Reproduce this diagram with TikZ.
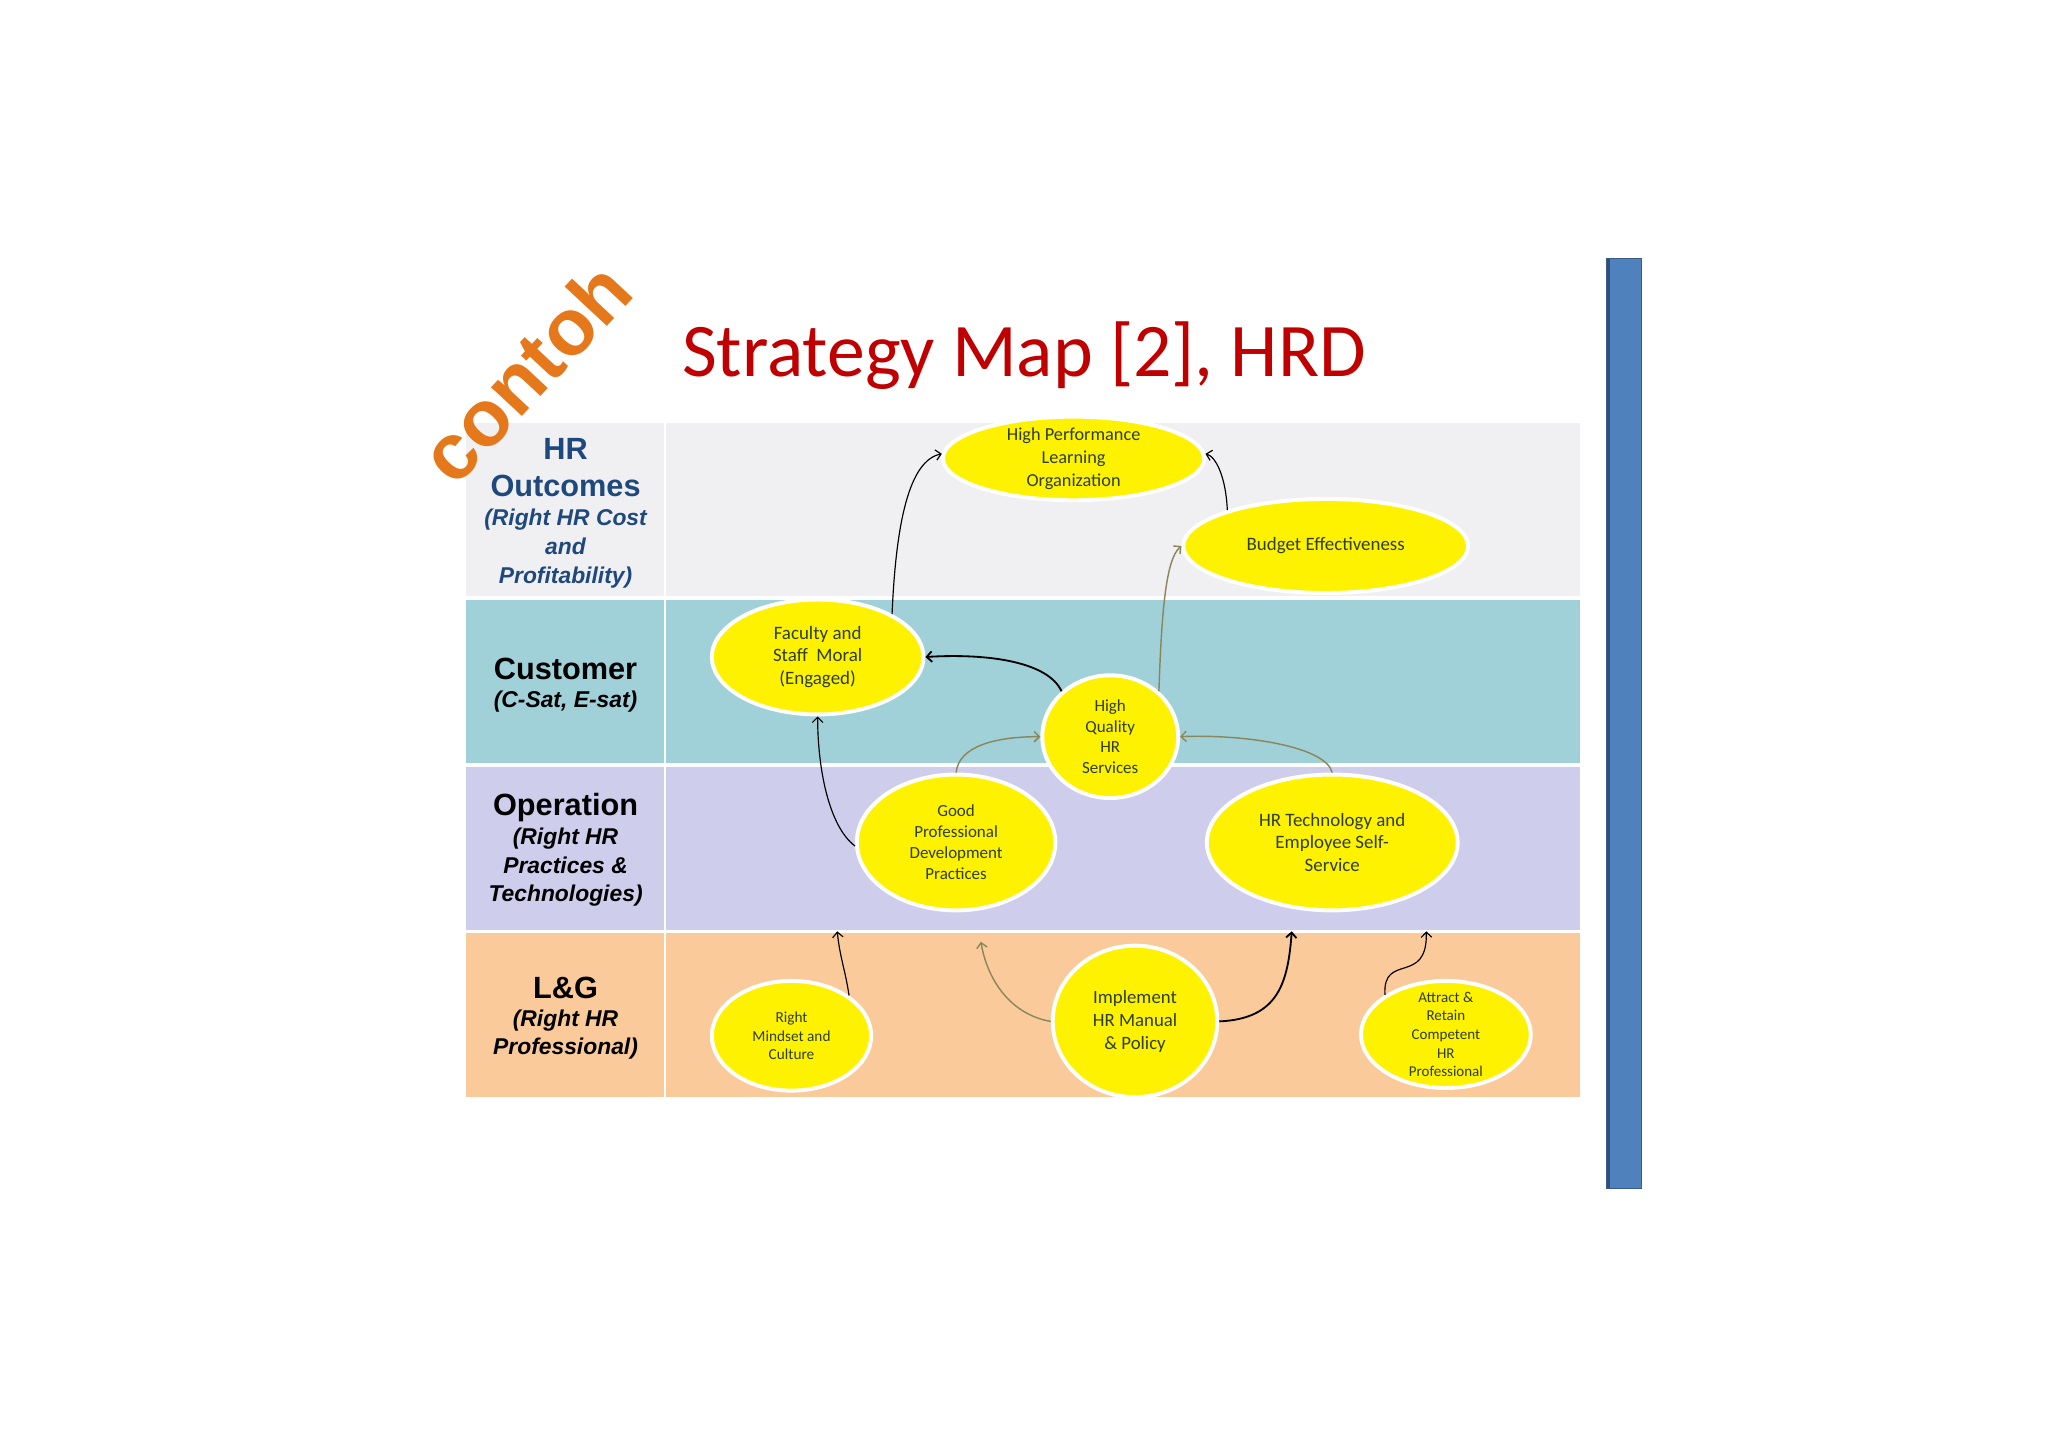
\documentclass[tikz,border=0pt]{standalone}
\usepackage{fontspec}
\newfontfamily\calfont{Carlito}
\newfontfamily\arfont{Liberation Sans}
\usetikzlibrary{shapes.geometric,arrows.meta}
\definecolor{rowgray}{RGB}{240,240,242}
\definecolor{rowteal}{RGB}{160,208,216}
\definecolor{rowlav}{RGB}{207,205,236}
\definecolor{rowpeach}{RGB}{251,202,154}
\definecolor{hrblue}{RGB}{31,73,125}
\definecolor{titlered}{RGB}{192,0,0}
\definecolor{orng}{RGB}{230,120,28}
\definecolor{olivec}{RGB}{140,135,90}
\definecolor{elltext}{RGB}{45,62,40}
\definecolor{barblue}{RGB}{79,129,189}
\definecolor{barline}{RGB}{56,93,138}
\begin{document}
\begin{tikzpicture}[x=1pt,y=-1pt,
  ell/.style={ellipse, fill=yellow, draw=white, line width=3pt, inner sep=0pt},
  etxt/.style={align=center, text=elltext, inner sep=0pt},
  lbl/.style={align=center, inner sep=0pt, font=\arfont\bfseries\fontsize{23.5}{29}\selectfont},
  sublbl/.style={align=center, inner sep=0pt, font=\arfont\bfseries\itshape\fontsize{17.5}{22}\selectfont},
  conn/.style={-{Straight Barb[length=4pt,width=8pt]}, line width=0.9pt, black},
  oconn/.style={-{Straight Barb[length=4pt,width=8pt]}, line width=1.1pt, olivec}]
\useasboundingbox (0,0) rectangle (1568,1109);
\fill[white] (0,0) rectangle (1568,1109);
% rows
\fill[rowgray] (357,324) rectangle (1210,456);
\fill[rowteal] (357,459) rectangle (1210,584);
\fill[rowlav] (357,587) rectangle (1210,712);
\fill[rowpeach] (357,714) rectangle (1210,840);
\draw[white, line width=2pt] (509,324) -- (509,840);
% blue bar
\fill[barblue] (1230,198) rectangle (1257,910);
\fill[barline!85!black] (1230,198) rectangle (1233,910);
\draw[barline, line width=0.8pt] (1230,198) rectangle (1257,910);
% title
\node[anchor=base west, inner sep=0pt, text=titlered, font=\calfont\fontsize{58}{70}\selectfont] (title) at (522,288) {Strategy Map [2], HRD};
\node[rotate=47, inner sep=0pt, text=orng, font=\arfont\bfseries\fontsize{61}{66}\selectfont] (contoh) at (402,285) {contoh};
% row labels
\node[lbl, text=hrblue] (hrA) at (433,358) {HR\\Outcomes};
\node[sublbl, text=hrblue] (hrB) at (433,420) {(Right HR Cost\\and\\Profitability)};
\node[lbl] (cuA) at (433,512) {Customer};
\node[sublbl] (cuB) at (433,537) {(C-Sat, E-sat)};
\node[lbl] (opA) at (433,618) {Operation};
\node[sublbl] (opB) at (433,664) {(Right HR\\Practices \&\\Technologies)};
\node[lbl] (lgA) at (433,756) {L\&G};
\node[sublbl] (lgB) at (433,792) {(Right HR\\Professional)};
% ellipses
\node[ell, minimum width=200pt, minimum height=64pt] (hp) at (822,351) {};
\node[etxt, font=\calfont\fontsize{14}{17.5}\selectfont] (hpT) at (hp) {High Performance\\Learning\\Organization};
\node[ell, minimum width=218pt, minimum height=72pt] (bud) at (1015,418) {};
\node[etxt, font=\calfont\fontsize{14.5}{17.5}\selectfont] (budT) at (bud) {Budget Effectiveness};
\node[ell, minimum width=162pt, minimum height=88pt] (fac) at (626,503) {};
\node[etxt, font=\calfont\fontsize{14.5}{17.5}\selectfont] (facT) at (fac) {Faculty and\\Staff\ \ Moral\\(Engaged)};
\node[ell, minimum width=104pt, minimum height=94pt] (hq) at (850,564) {};
\node[etxt, font=\calfont\fontsize{13}{16}\selectfont] (hqT) at (hq) {High\\Quality\\HR\\Services};
\node[ell, minimum width=152pt, minimum height=104pt] (gpd) at (732,645) {};
\node[etxt, font=\calfont\fontsize{13}{16}\selectfont] (gpdT) at (gpd) {Good\\Professional\\Development\\Practices};
\node[ell, minimum width=192pt, minimum height=104pt] (hrt) at (1020,645) {};
\node[etxt, font=\calfont\fontsize{14.5}{17}\selectfont] (hrtT) at (hrt) {HR Technology and\\Employee Self-\\Service};
\node[ell, minimum width=122pt, minimum height=84pt] (rm) at (606,793) {};
\node[etxt, font=\calfont\fontsize{11.7}{14}\selectfont] (rmT) at (rm) {Right\\Mindset and\\Culture};
\node[ell, minimum width=126pt, minimum height=116pt] (imp) at (869,782) {};
\node[etxt, font=\calfont\fontsize{14.4}{17.5}\selectfont] (impT) at (imp) {Implement\\HR Manual\\\& Policy};
\node[ell, minimum width=130pt, minimum height=82pt] (att) at (1107,792) {};
\node[etxt, font=\calfont\fontsize{11.5}{14.2}\selectfont] (attT) at (att) {Attract \&\\Retain\\Competent\\HR\\Professional};
% free ends
\coordinate (e1) at (641,713);
\coordinate (e2) at (751,721);
\coordinate (e3) at (989,713);
\coordinate (e4) at (1092,713);
% connectors
\draw[conn] (fac.30) .. controls +(3,-70) and +(-25,5) .. (hp.178);
\draw[conn] (bud.160) .. controls +(-1,-25) and +(8,2) .. (hp.2);
\draw[oconn] (hq.43) .. controls +(2,-60) and +(-12,10) .. (bud.180);
\draw[conn, line width=1.4pt] (hq.137) .. controls +(-10,-22) and +(50,-3) .. (fac.east);
\draw[oconn] (gpd.north) .. controls +(2,-20) and +(-35,0) .. (hq.west);
\draw[oconn] (hrt.north) .. controls +(-5,-20) and +(50,-2) .. (hq.east);
\draw[conn] (gpd.182) .. controls +(-20,-15) and +(0,40) .. (fac.south);
\draw[conn] (rm.35) .. controls +(-3,-20) and +(2,20) .. (e1);
\draw[oconn] (imp.west) .. controls +(-30,-5) and +(5,30) .. (e2);
\draw[conn, line width=1.4pt] (imp.east) .. controls +(45,-2) and +(-3,40) .. (e3);
\draw[conn] (att.147) .. controls +(-2,-33) and +(1,42) .. (e4);
\end{tikzpicture}
\end{document}
